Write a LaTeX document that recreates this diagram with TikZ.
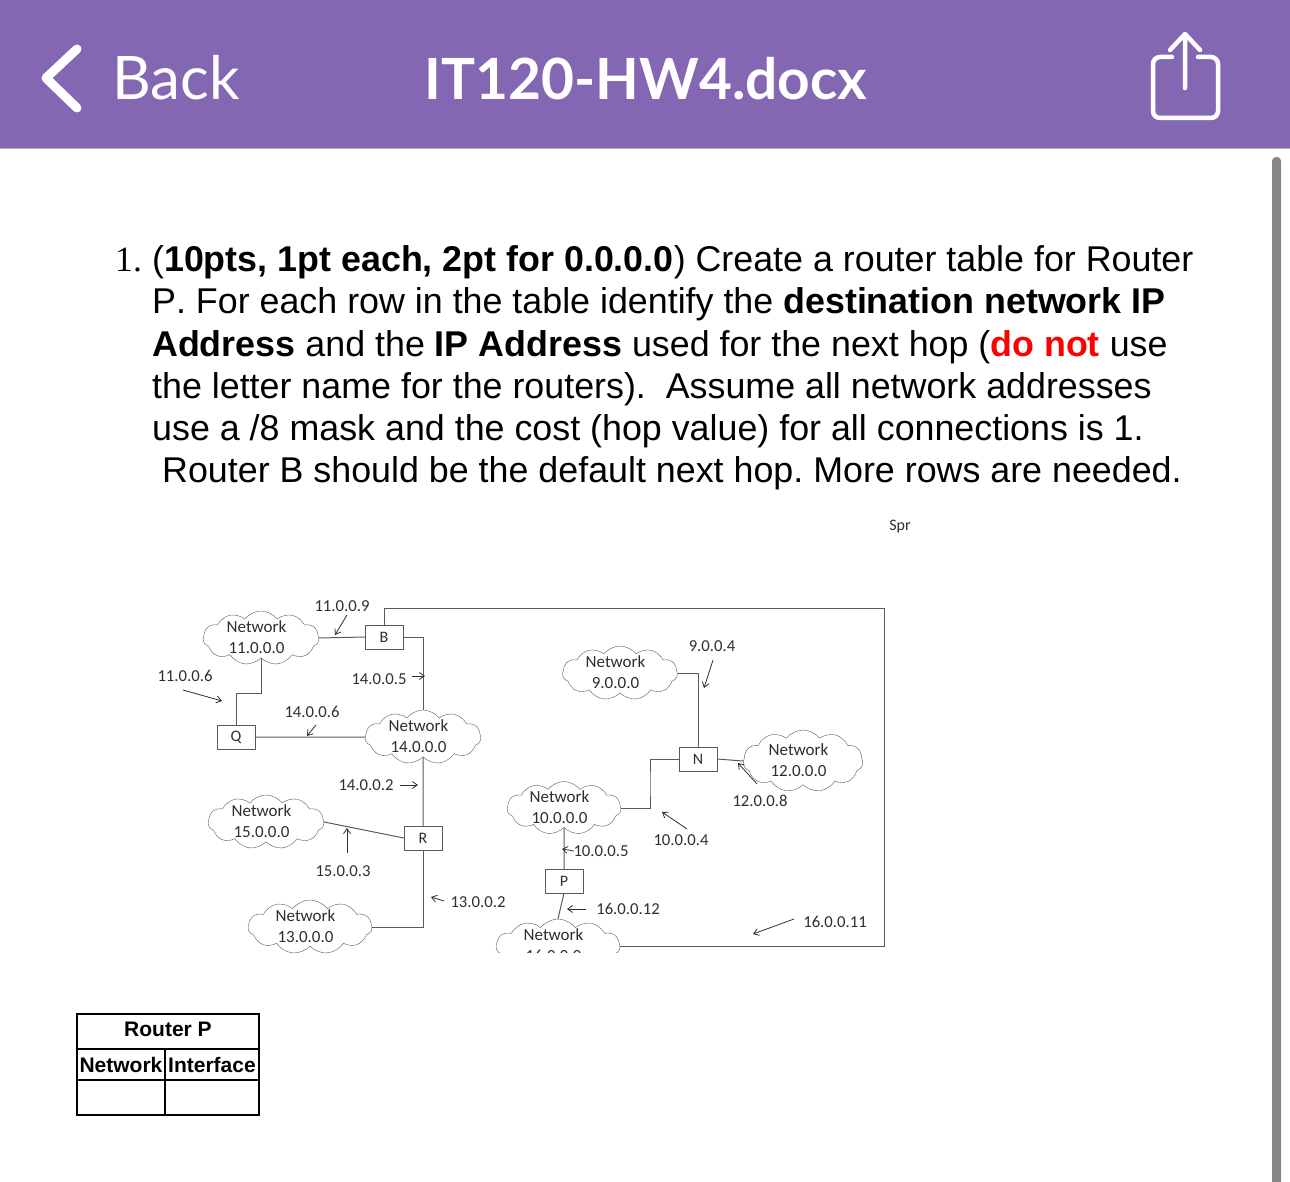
\documentclass[tikz,border=0pt]{standalone}
\usepackage{fontspec}
\setmainfont[Kerning=Off]{Liberation Sans}
\newfontfamily\calfont{Carlito}
\newfontfamily\serfont{Liberation Serif}
\newfontfamily\lafont{Lato}
\usetikzlibrary{calc,arrows.meta,positioning,shapes.symbols}
\definecolor{purplex}{HTML}{8467B3}
\definecolor{barx}{HTML}{868686}
\definecolor{linex}{HTML}{5A5A5A}
\definecolor{inkx}{HTML}{2E2E2E}
\newcommand{\nwt}[1]{\makebox[0pt]{\raisebox{-5pt}[0pt][0pt]{\kern-9pt\begin{tabular}{@{}c@{}}Network\\#1\end{tabular}}}}
\tikzset{
  nw/.style={cloud,cloud puffs=11,cloud puff arc=105,aspect=2.5,draw=linex,fill=white,inner sep=0pt,text=inkx,font=\calfont\fontsize{17}{21}\selectfont},
  rt/.style={draw=linex,fill=white,minimum width=38pt,minimum height=24pt,inner sep=0pt,text=inkx,font=\calfont\fontsize{16}{18}\selectfont},
  ln/.style={draw=linex,line width=1pt},
  ar/.style={-{Straight Barb[length=5pt,width=7pt]},draw=inkx,line width=0.8pt},
  lb/.style={text=inkx,inner sep=0pt,font=\calfont\fontsize{16.7}{18}\selectfont},
  tx/.style={anchor=base west,inner sep=0pt,font=\frenchspacing\fontsize{35.82}{42}\selectfont},
  cl/.style={draw=black,line width=2.4pt,inner sep=0pt,outer sep=0pt,font=\bfseries\fontsize{21}{24}\selectfont}
}
\begin{document}
\begin{tikzpicture}[x=1pt,y=-1pt]
\useasboundingbox (0,0) rectangle (1290,1182);
% top bar
\fill[purplex] (0,0) rectangle (1290,148);
\draw[gray!60,line width=1pt] (0,148.5) -- (1290,148.5);
\draw[white,line width=9pt,line cap=round,line join=round] (77,49) -- (46,78) -- (77,108);
\node[white,font=\lafont\fontsize{60}{70}\selectfont,anchor=base west,inner sep=0pt] (back) at (112,100) {Back};
\node[white,font=\lafont\bfseries\fontsize{56.8}{70}\selectfont,anchor=base,inner sep=0pt] (title) at (646,100) {IT120-HW4.docx};
\draw[white,line width=4.5pt,rounded corners=7pt,line cap=round] (1172,57) -- (1153,57) -- (1153,118) -- (1218,118) -- (1218,57) -- (1198,57);
\draw[white,line width=4.5pt,line cap=round,line join=round] (1185,88) -- (1185,34) (1170,50) -- (1185,34) -- (1200,50);
\fill[barx,rounded corners=4pt] (1272,157) rectangle (1281,1190);
% question
\node[tx,font=\serfont\fontsize{35.6}{42}\selectfont] (num) at (115,272) {1.};
\node[tx] (q1) at (152,272) {(\textbf{10pts, 1pt each, 2pt for 0.0.0.0}) Create a router table for Router};
\node[tx] (q2) at (152,313.5) {P. For each row in the table identify the \textbf{destination network IP}};
\node[tx] (q3) at (152,356) {\textbf{Address} and the \textbf{IP Address} used for the next hop (\textcolor{red}{\textbf{do not}} use};
\node[tx] (q4) at (152,398) {the letter name for the routers).\ \ Assume all network addresses};
\node[tx] (q5) at (152,440) {use a /8 mask and the cost (hop value) for all connections is 1.};
\node[tx] (q6) at (162,482) {Router B should be the default next hop. More rows are needed.};
\node[lb,font=\calfont\fontsize{16}{18}\selectfont] (spr) at (900,527) {Spr};
% networks
\node[nw,minimum width=116pt,minimum height=54pt] (n11) at (261,638) {\nwt{11.0.0.0}};
\node[nw,minimum width=116pt,minimum height=54pt] (n14) at (423,737) {\nwt{14.0.0.0}};
\node[nw,minimum width=116pt,minimum height=54pt] (n15) at (266,822) {\nwt{15.0.0.0}};
\node[nw,minimum width=124pt,minimum height=54pt] (n13) at (310,927) {\nwt{13.0.0.0}};
\node[nw,minimum width=115pt,minimum height=54pt] (n9) at (620,673) {\nwt{9.0.0.0}};
\node[nw,minimum width=120pt,minimum height=62pt] (n12) at (803,761) {\nwt{12.0.0.0}};
\node[nw,minimum width=114pt,minimum height=53pt] (n10) at (564,808) {\nwt{10.0.0.0}};
\begin{scope}
\clip (480,900) rectangle (640,952);
\node[nw,minimum width=124pt,minimum height=54pt] (n16) at (558,946) {\nwt{16.0.0.0}};
\end{scope}
% routers
\node[rt] (B) at (384,637) {B};
\node[rt] (Q) at (236,737) {Q};
\node[rt] (R) at (423,838) {R};
\node[rt] (N) at (698,759) {N};
\node[rt] (P) at (564,881) {P};
% links
\coordinate (qbend) at (236,693);
\coordinate (nbend) at (650,784);
\coordinate (frame) at (884,608);
\draw[ln] (n11.east) -- (B.west);
\draw[ln] (n11.south) |- (qbend) -- (Q.north);
\draw[ln] (B.east) -| (n14.north);
\draw[ln] (Q.east) -- (n14.west);
\draw[ln] (n14.south) -- (R.north);
\draw[ln] (R.south) |- (n13.east);
\draw[ln] (n15.east) -- (R.west);
\draw[ln] (B.north) |- (frame) |- (n16.east);
\draw[ln] (n9.east) -| (N.north);
\draw[ln] (N.west) -| (nbend) |- (n10.east);
\draw[ln] (N.east) -- (n12.west);
\draw[ln] (n10.south) -- (P.north);
\draw[ln] (P.south) -- (n16.north);
% addresses
\foreach \nn/\xx/\yy/\t in {a/342/606.5/11.0.0.9,b/185/675.5/11.0.0.6,c/379/679.5/14.0.0.5,d/312/711.5/14.0.0.6,e/366/785.5/14.0.0.2,f/343/871.5/15.0.0.3,g/478/902.5/13.0.0.2,h/712/646.5/9.0.0.4,i/760/800.5/12.0.0.8,j/681/840.5/10.0.0.4,k/601/851.5/10.0.0.5,l/628/908.5/16.0.0.12,m/835/921.5/16.0.0.11}{\node[lb] (ip\nn) at (\xx,\yy) {\t};}
\foreach \nn/\xa/\ya/\xb/\yb in {a/347/615/335/635,b/183/690/222/701,c/412/676/425/676,d/316/725/307/736,e/400/785/418/785,f/347/853/347/828,g/444/901/431/897,h/713/660/704/688,i/757/784/738/763,j/687/829/662/812,k/574/851/562/849,l/586/909/567/909,m/794/919/753/934}{\coordinate (s\nn) at (\xa,\ya);\coordinate (e\nn) at (\xb,\yb);\draw[ar] (s\nn)--(e\nn);}
% table
\node[cl,minimum width=182pt,minimum height=35pt,text depth=5pt] (head) at (168,1031.5) {Router P};
\node[cl,minimum width=88pt,minimum height=31pt,anchor=north west] (c1) at (head.south west) {Network};
\node[cl,minimum width=94pt,minimum height=31pt,anchor=west] (c2) at (c1.east) {Interface};
\node[cl,minimum width=88pt,minimum height=35pt,below=0pt of c1] (c3) {};
\node[cl,minimum width=94pt,minimum height=35pt,below=0pt of c2] (c4) {};
\end{tikzpicture}
\end{document}
